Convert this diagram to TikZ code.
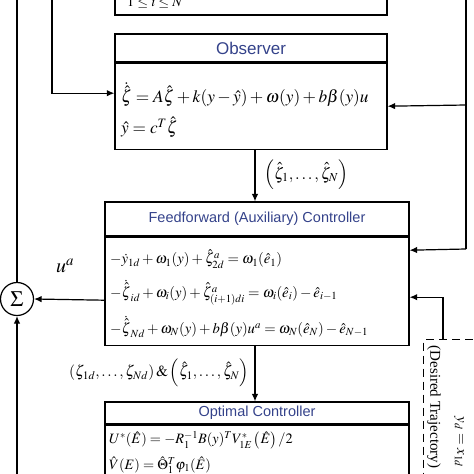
\documentclass[tikz,border=0pt]{standalone}
\usepackage{mathptmx}
\usepackage[no-math]{fontspec}
\setmainfont{Liberation Serif}
\newfontfamily\hdrfont{Liberation Sans}
\usetikzlibrary{arrows.meta}
\definecolor{hdrblue}{RGB}{52,66,138}
\newcommand{\fsz}[1]{\fontsize{#1}{#1}\selectfont}
\begin{document}
\begin{tikzpicture}[x=1pt,y=-1pt,
  line/.style={line width=1.2pt},
  arr/.style={line width=1.2pt,-{Latex[length=7.5pt,width=6.5pt]}},
  box/.style={draw,line width=1.2pt,inner sep=0pt,minimum width=#1},
  box/.default=304pt,
  hdr/.style={font=\hdrfont\fsz{14.5},text=hdrblue},
  eq/.style={anchor=west,inner sep=0pt}]
\useasboundingbox (0,0) rectangle (474,474);
\clip (0,0) rectangle (474,474);
% top box (cut off)
\node[box=272pt,minimum height=75pt] (topb) at (251,-22.5) {};
\node[anchor=base west,inner sep=0pt,font=\fsz{14}] (rng) at (127,6) {$1\le i\le N$};
% observer
\node[box=272pt,minimum height=28pt,font=\hdrfont\fsz{17},text=hdrblue] (obsh) at (251,48) {Observer};
\node[box=272pt,minimum height=86pt,anchor=north] (obs) at (obsh.south) {};
\node[eq,font=\fsz{17.3}] (o1) at (121,95) {$\dot{\hat{\zeta}} = A\hat{\zeta} + k(y-\hat{y}) + \omega(y) + b\beta(y)u$};
\node[eq,font=\fsz{17.3}] (o2) at (121,127) {$\hat{y} = c^{T}\hat{\zeta}$};
% feedforward
\node[box,minimum height=34pt,hdr] (ffh) at (257,219) {Feedforward (Auxiliary) Controller};
\node[box,minimum height=108pt,anchor=north] (ff) at (ffh.south) {};
\node[eq,font=\fsz{14.7}] (f1) at (110,259) {$-\dot{y}_{1d} + \omega_1(y) + \hat{\zeta}^{a}_{2d} = \omega_1(\hat{e}_1)$};
\node[eq,font=\fsz{14.7}] (f2) at (110,293) {$-\dot{\hat{\zeta}}_{id} + \omega_i(y) + \hat{\zeta}^{a}_{(i+1)di} = \omega_i(\hat{e}_i) - \hat{e}_{i-1}$};
\node[eq,font=\fsz{14.7}] (f3) at (110,327) {$-\dot{\hat{\zeta}}_{Nd} + \omega_N(y) + b\beta(y)u^{a} = \omega_N(\hat{e}_N) - \hat{e}_{N-1}$};
% optimal
\node[box,minimum height=22pt,hdr] (opth) at (257,413) {Optimal Controller};
\node[box,minimum height=100pt,anchor=north] (opt) at (opth.south) {};
\node[eq,font=\fsz{14.3}] (p1) at (109,440) {$U^{*}(\hat{E}) = -R_1^{-1}B(y)^{T}V^{*}_{1E}\left(\hat{E}\right)/2$};
\node[eq,font=\fsz{14.3}] (p2) at (109,465) {$\hat{V}(E) = \hat{\Theta}_1^{T}\varphi_1(\hat{E})$};
% sigma
\node[circle,draw,line width=1.2pt,minimum size=33pt,inner sep=0pt,font=\fsz{22}] (sig) at (17,299) {$\Sigma$};
\coordinate (stop) at (17,0);
\coordinate (sbot) at (17,474);
\draw[line] (sig.north) -- (stop);
\draw[arr] (sbot) -- (sig.south);
\draw[arr] ([yshift=-9pt]ff.west) -- (sig.east);
\node[font=\fsz{20}] (ua) at (65,266) {$u^{a}$};
% left inner feedback
\coordinate (ltop) at (52,0);
\coordinate (lin) at ([yshift=13pt]obs.west);
\draw[arr] (ltop) |- (lin);
% right feedback
\coordinate (rtop) at (466,0);
\coordinate (rj) at (466,105);
\coordinate (rbot) at (466,249);
\draw[line] (rtop) -- (rbot);
\draw[arr] (rj) -- (obs.east);
\draw[arr] (rbot) -- ([yshift=41pt]ff.east);
% observer -> feedforward
\coordinate (oa) at ([xshift=4pt]obs.south);
\draw[arr] (oa) -- (oa |- ffh.north);
\node[font=\fsz{16.5},anchor=west,inner sep=0pt] (lab1) at (264,175) {$\left(\hat{\zeta}_1,\ldots,\hat{\zeta}_N\right)$};
% feedforward -> optimal
\coordinate (fa) at ([xshift=-2pt]ff.south);
\draw[arr] (fa) -- (fa |- opth.north);
\node[font=\fsz{15.5},anchor=east,inner sep=0pt] (lab2) at (249,373) {$\left(\zeta_{1d},\ldots,\zeta_{Nd}\right)\&\left(\hat{\zeta}_1,\ldots,\hat{\zeta}_N\right)$};
% desired trajectory
\node[draw,line width=1pt,dash pattern=on 8pt off 5pt,minimum width=100pt,minimum height=200pt,anchor=north west] (des) at (423,339) {};
\coordinate (dj) at (443,339);
\draw[arr] (dj) |- ([yshift=-6pt]ff.east);
\node[rotate=-90,font=\fsz{15}] (dt) at (434,407) {(Desired Trajectory)};
\node[rotate=-90,font=\fsz{15}] (yd) at (459,442) {$y_d = x_{1d}$};
\end{tikzpicture}
\end{document}
